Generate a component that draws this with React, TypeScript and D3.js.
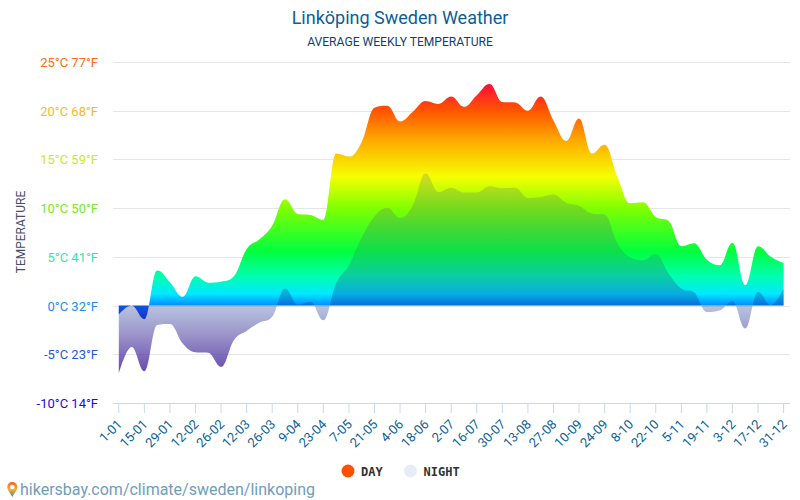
import * as d3 from "d3";

const weekLabels = ["1-01", "15-01", "29-01", "12-02", "26-02", "12-03", "26-03", "9-04", "23-04", "7-05", "21-05", "4-06", "18-06", "2-07", "16-07", "30-07", "13-08", "27-08", "10-09", "24-09", "8-10", "22-10", "5-11", "19-11", "3-12", "17-12", "31-12"];

const dayTemps = [-0.9, 0, -1.4, 3.6, 2.4, 0.9, 3, 2.35, 2.45, 3, 5.8, 6.8, 8.2, 10.9, 9.4, 9.3, 8.8, 15.6, 15.3, 16.8, 20.3, 20.5, 18.9, 19.9, 21, 20.7, 21.45, 20.4, 21.6, 22.75, 20.9, 20.85, 20, 21.45, 19, 16.9, 19.2, 15.6, 16.5, 13.2, 10.5, 10.6, 9.1, 8.7, 6.1, 6.4, 4.7, 4.15, 6.45, 2.1, 6.1, 5, 4.35];
const nightTemps = [-6.95, -4.25, -6.75, -2, -1.9, -3.9, -4.8, -4.85, -6.3, -3.55, -2.6, -1.75, -1.15, 1.75, 0.1, 0.4, -1.5, 2.3, 4.15, 7, 9.15, 10.05, 9, 10.3, 13.55, 11.65, 12.1, 11.6, 11.6, 12.25, 12.05, 12.1, 11.05, 11.15, 11.4, 10.55, 10.25, 9.45, 9.35, 6.4, 4.95, 4.65, 5.3, 3.3, 1.75, 1.35, -0.65, -0.5, 0.45, -2.35, 1.4, 0.05, 1.75];

const yTicks = [25, 20, 15, 10, 5, 0, -5, -10];
const yTickColors = ["#ff6a13", "#f7bb1e", "#c9e82c", "#78e82a", "#2eeaa8", "#2090e8", "#1a5ae0", "#2208e0"];

const dayStops: [number, string][] = [[22.8, "#ff0a3c"], [20, "#ff5500"], [17, "#ffa800"], [13.2, "#f5ff00"], [10, "#80ff00"], [5.5, "#00ff40"], [3, "#00ffb0"], [1.2, "#00e8ff"], [0, "#008cff"], [-0.01, "#005cff"], [-1.4, "#0021f1"]];
const nightStops: [number, string, number][] = [[13.6, "#6a8060", 0.28], [12, "#5a7e6a", 0.26], [8, "#404090", 0.2], [5.5, "#356276", 0.2], [3.6, "#352e7b", 0.22], [1.2, "#1b007f", 0.25], [0.01, "#1b0a80", 0.25], [0, "#2d4a9c", 0.33], [-3, "#4a3c9e", 0.55], [-7, "#5a36a6", 0.92]];

const x = d3.scaleLinear([0, 52], [118.8, 783.6]);
const y = d3.scaleLinear([-10, 25], [403, 62]);

// highcharts style spline, control points pulled 40% towards the neighbours
function splinePath(values: number[]) {
  const pts = values.map((v, i) => [x(i), y(v)]);
  const conts = pts.map((p, i) => {
    if (i === 0 || i === pts.length - 1) return { lx: p[0], ly: p[1], rx: p[0], ry: p[1] };
    const prev = pts[i - 1];
    const next = pts[i + 1];
    const lx = (1.5 * p[0] + prev[0]) / 2.5;
    const rx = (1.5 * p[0] + next[0]) / 2.5;
    let ly = (1.5 * p[1] + prev[1]) / 2.5;
    let ry = (1.5 * p[1] + next[1]) / 2.5;
    const corr = ((ry - ly) * (rx - p[0])) / (rx - lx) + p[1] - ry;
    ly += corr;
    ry += corr;
    if (ly > prev[1] && ly > p[1]) {
      ly = Math.max(prev[1], p[1]);
      ry = 2 * p[1] - ly;
    } else if (ly < prev[1] && ly < p[1]) {
      ly = Math.min(prev[1], p[1]);
      ry = 2 * p[1] - ly;
    }
    if (ry > next[1] && ry > p[1]) {
      ry = Math.max(next[1], p[1]);
      ly = 2 * p[1] - ry;
    } else if (ry < next[1] && ry < p[1]) {
      ry = Math.min(next[1], p[1]);
      ly = 2 * p[1] - ry;
    }
    return { lx, ly, rx, ry };
  });
  const path = d3.path();
  path.moveTo(pts[0][0], y(0));
  path.lineTo(pts[0][0], pts[0][1]);
  for (let i = 1; i < pts.length; i++) {
    path.bezierCurveTo(conts[i - 1].rx, conts[i - 1].ry, conts[i].lx, conts[i].ly, pts[i][0], pts[i][1]);
  }
  path.lineTo(pts[pts.length - 1][0], y(0));
  path.closePath();
  return path.toString();
}

export default function App() {
  const font = "Roboto, sans-serif";
  return (
    <svg width={800} height={500} style={{ position: "absolute", left: 0, top: 0, background: "#fff" }}>
      <defs>
        <linearGradient id="dayFill" gradientUnits="userSpaceOnUse" x1="0" x2="0" y1={y(dayStops[0][0])} y2={y(dayStops[dayStops.length - 1][0])}>
          {dayStops.map(([t, c], i) => (
            <stop key={i} offset={(y(t) - y(dayStops[0][0])) / (y(dayStops[dayStops.length - 1][0]) - y(dayStops[0][0]))} stopColor={c} />
          ))}
        </linearGradient>
        <linearGradient id="nightFill" gradientUnits="userSpaceOnUse" x1="0" x2="0" y1={y(nightStops[0][0])} y2={y(nightStops[nightStops.length - 1][0])}>
          {nightStops.map(([t, c, o], i) => (
            <stop key={i} offset={(y(t) - y(nightStops[0][0])) / (y(nightStops[nightStops.length - 1][0]) - y(nightStops[0][0]))} stopColor={c} stopOpacity={o} />
          ))}
        </linearGradient>
        <linearGradient id="pinFill" x1="0" x2="0" y1="0" y2="1">
          <stop offset="0" stopColor="#ff5a1e" />
          <stop offset="0.5" stopColor="#f5b02e" />
          <stop offset="1" stopColor="#3f8fa8" />
        </linearGradient>
      </defs>

      <text x={400} y={24} textAnchor="middle" fontFamily={font} fontSize={18} fill="#0b5f98">Linköping Sweden Weather</text>
      <text x={400} y={46} textAnchor="middle" fontFamily={font} fontSize={12.1} fill="#0e3f73">AVERAGE WEEKLY TEMPERATURE</text>

      {yTicks.filter((t) => t !== -10).map((t) => (
        <line key={t} x1={113} x2={790} y1={Math.round(y(t)) + 0.5} y2={Math.round(y(t)) + 0.5} stroke="#e6e6e6" />
      ))}
      {yTicks.map((t, i) => (
        <text key={t} x={98} y={y(t) + 5} textAnchor="end" fontFamily={font} fontSize={13} fill={yTickColors[i]}>
          {`${t}°C ${Math.round((t * 9) / 5 + 32)}°F`}
        </text>
      ))}
      <text transform={`translate(25,232) rotate(-90)`} textAnchor="middle" fontFamily={font} fontSize={12} fill="#44506a">TEMPERATURE</text>

      <path d={splinePath(dayTemps)} fill="url(#dayFill)" />
      <path d={splinePath(nightTemps)} fill="url(#nightFill)" />

      <line x1={113} x2={790} y1={403.5} y2={403.5} stroke="#ccd6eb" />
      {weekLabels.map((w, i) => (
        <g key={w} transform={`translate(${x(i * 2)},0)`}>
          <line y1={403} y2={413} stroke="#ccd6eb" />
          <text transform="translate(4,425) rotate(-45)" textAnchor="end" fontFamily={font} fontSize={13} fill="#0b5f98">{w}</text>
        </g>
      ))}

      <circle cx={348} cy={471} r={6.5} fill="#ff5000" />
      <text x={361} y={475.5} fontFamily="'DejaVu Sans Mono', monospace" fontWeight="bold" fontSize={12} fill="#333">DAY</text>
      <circle cx={410.5} cy={471} r={6.5} fill="#e6edf5" />
      <text x={423.5} y={475.5} fontFamily="'DejaVu Sans Mono', monospace" fontWeight="bold" fontSize={12} fill="#333">NIGHT</text>

      <path d="M12.3 482a5 5 0 0 0-5 5c0 3.5 3.2 6.5 5 10 1.8-3.5 5-6.5 5-10a5 5 0 0 0-5-5z" fill="url(#pinFill)" />
      <circle cx={12.3} cy={487} r={2.3} fill="#fff" />
      <text x={20} y={495} fontFamily={font} fontSize={16} fill="#6f9dba">hikersbay.com/climate/sweden/linkoping</text>
    </svg>
  );
}
